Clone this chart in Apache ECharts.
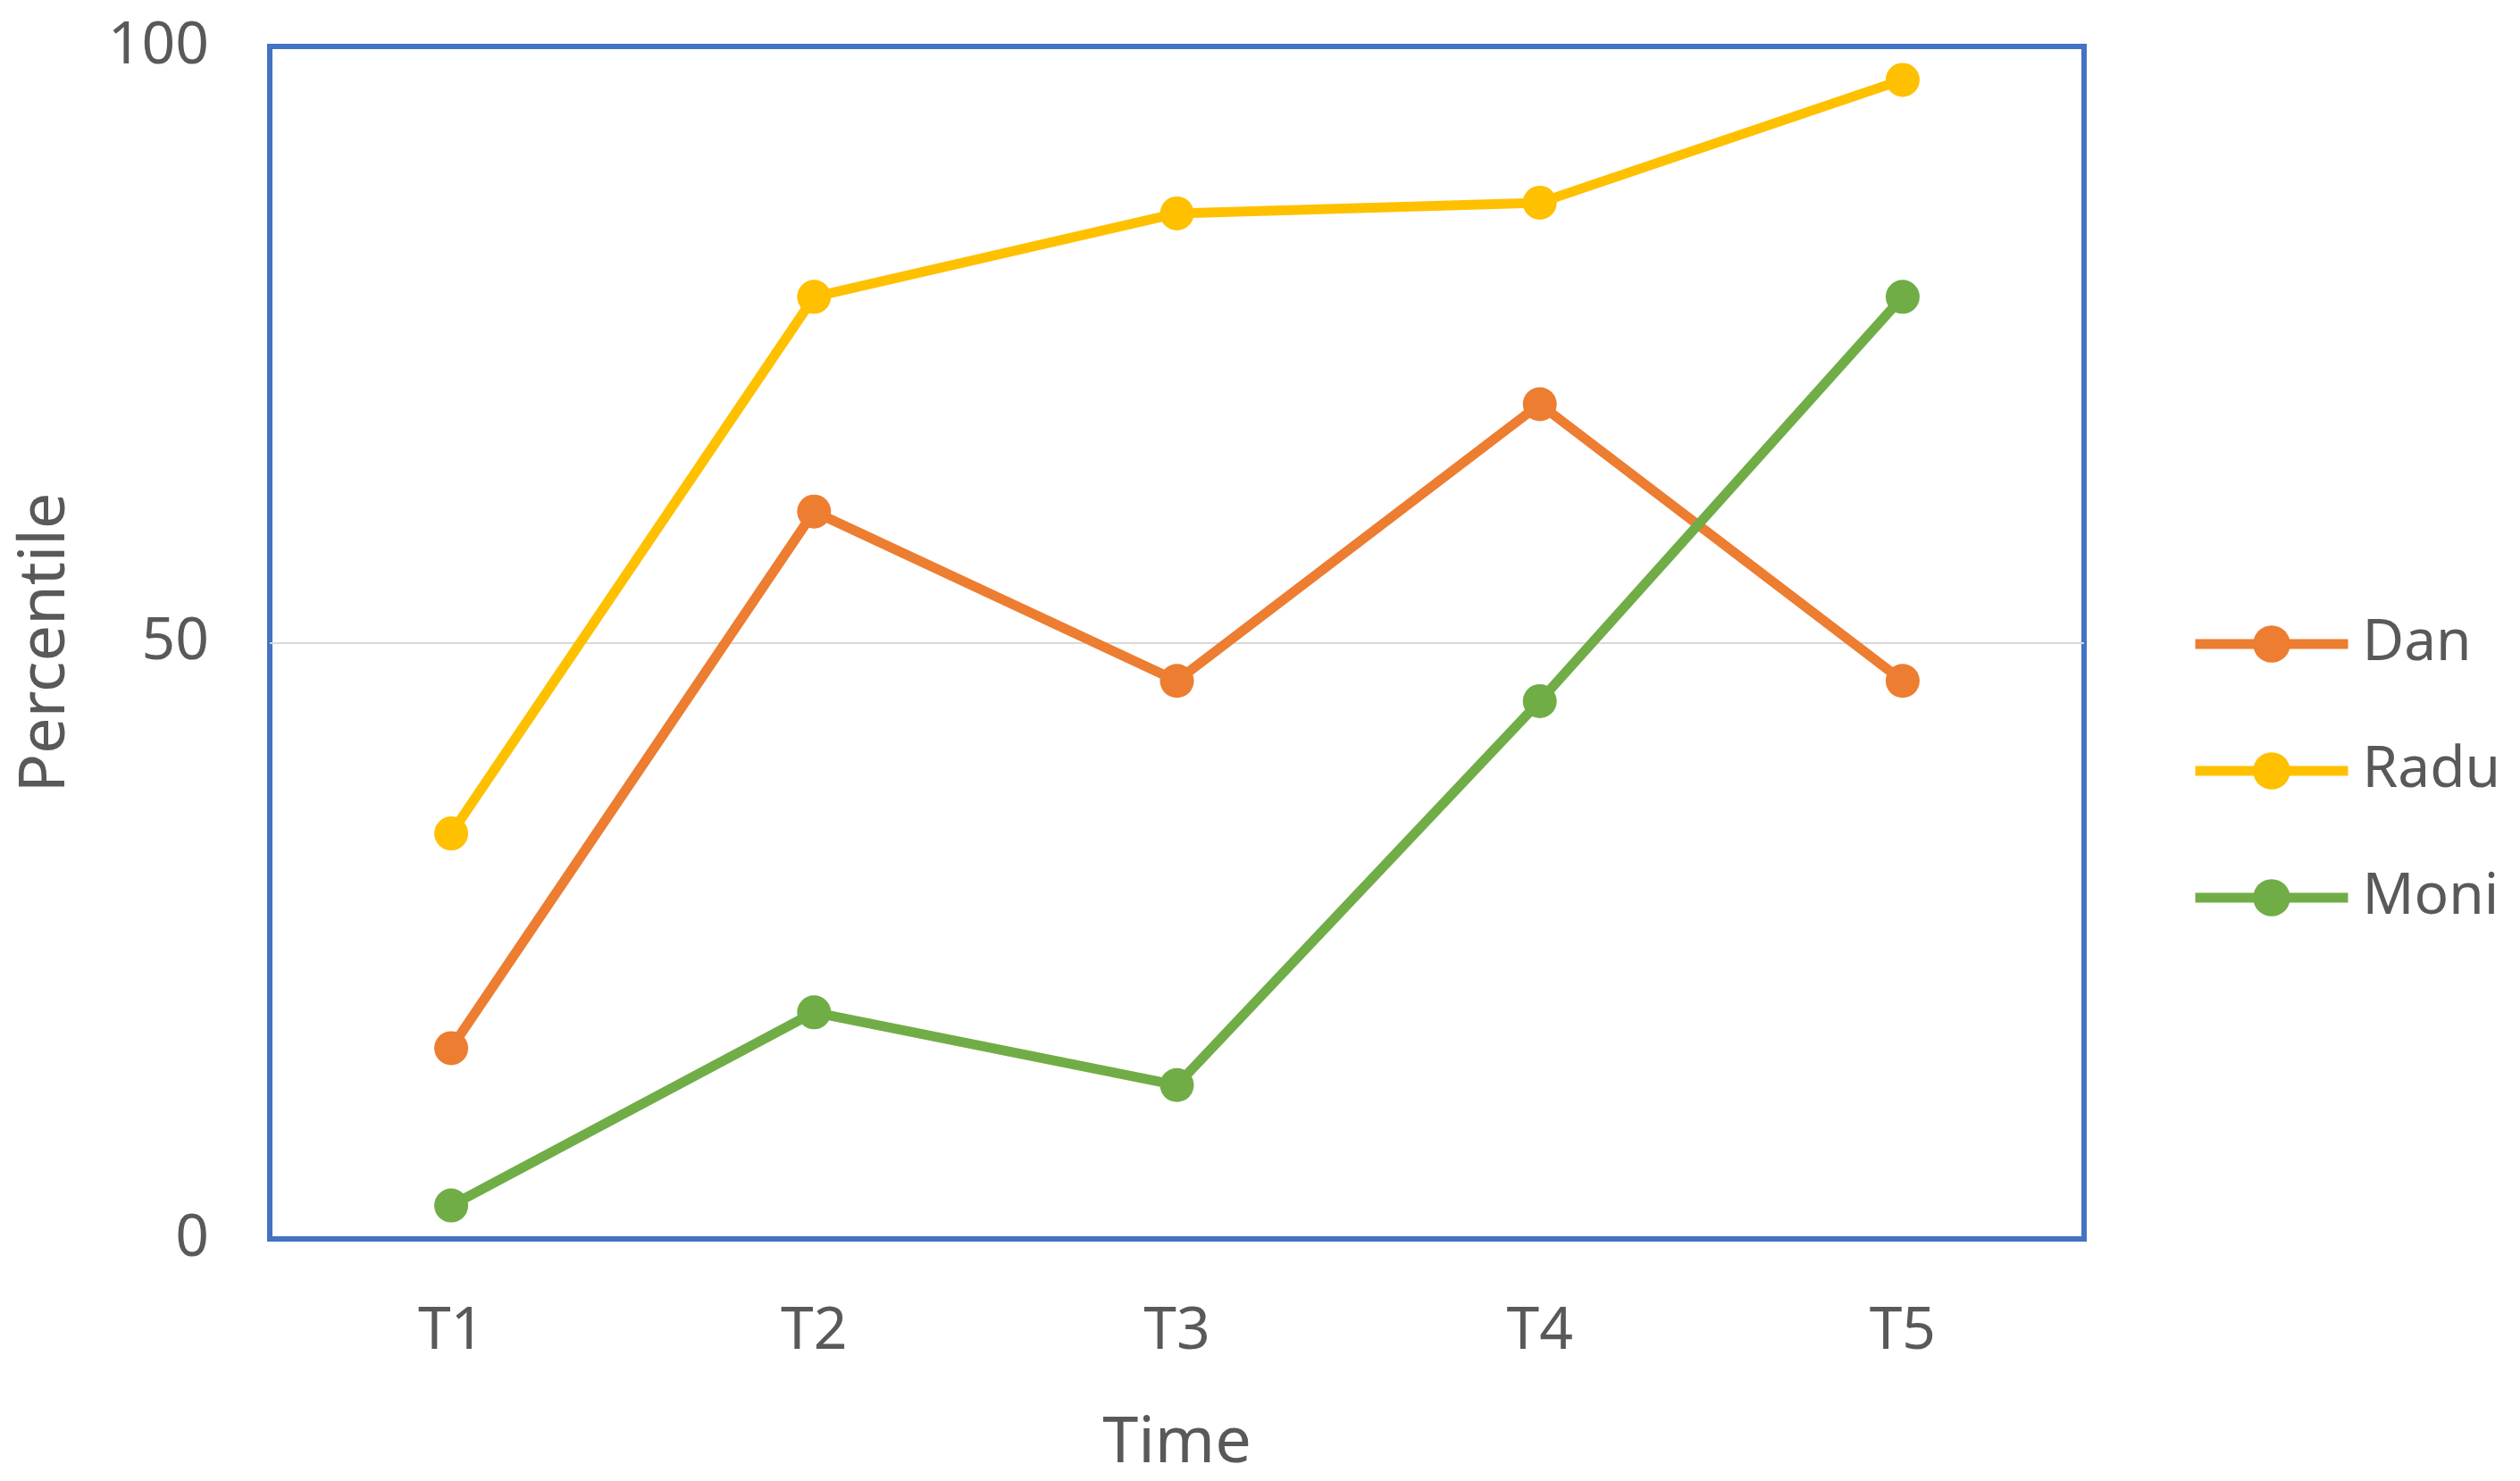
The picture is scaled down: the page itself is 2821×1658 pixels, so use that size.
<!DOCTYPE html>
<html>
	<head>
		<meta charset="utf-8">
		<title></title>
		<script src="https://cdn.jsdelivr.net/npm/echarts@6/dist/echarts.min.js"></script>
		<style>
			html, body { margin: 0; padding: 0; background: #fff; }
		</style>
	</head>
	<body>
		<div id="main" style="width: 2821px;height:1658px;"></div>
		<script type="text/javascript">
			// data
			var times = ['T1', 'T2', 'T3', 'T4', 'T5'];
			var dan = [16, 61, 46.8, 70, 46.8];
			var radu = [34, 79, 86, 86.9, 97.2];
			var moni = [2.8, 19, 12.9, 45.1, 79];
			var yTicks = [0, 50, 100];

			var textColor = '#595959';
			var font = 'Noto Sans';

			function lineSeries(name, data, color) {
				return {
					name: name,
					type: 'line',
					data: data,
					symbol: 'circle',
					symbolSize: 38,
					itemStyle: { color: color },
					lineStyle: { color: color, width: 11 }
				};
			}

			var myChart = echarts.init(document.getElementById('main'));

			var option = {
				backgroundColor: '#fff',
				animation: false,
				grid: {
					left: 302,
					right: 488,
					top: 52,
					bottom: 271,
					containLabel: false,
					outerBoundsMode: 'none',
					show: true,
					borderColor: '#4472C4',
					borderWidth: 6,
					backgroundColor: 'transparent'
				},
				legend: {
					orient: 'vertical',
					left: 2447,
					top: 684,
					itemWidth: 171,
					itemHeight: 52,
					itemGap: 78,
					lineStyle: { width: 11 },
					textStyle: {
						color: textColor,
						fontFamily: font,
						fontSize: 64,
						lineHeight: 64,
						padding: [0, 0, 0, 11]
					},
					data: ['Dan', 'Radu', 'Moni']
				},
				xAxis: {
					type: 'category',
					data: times,
					name: 'Time',
					nameLocation: 'middle',
					nameGap: 193,
					nameTextStyle: { color: textColor, fontFamily: font, fontSize: 72 },
					axisLine: { show: false },
					axisTick: { show: false },
					axisLabel: { color: textColor, fontFamily: font, fontSize: 66, margin: 71 }
				},
				yAxis: {
					type: 'value',
					min: yTicks[0],
					max: yTicks[yTicks.length - 1],
					interval: yTicks[1] - yTicks[0],
					name: 'Percentile',
					nameLocation: 'middle',
					nameGap: 215,
					nameTextStyle: { color: textColor, fontFamily: font, fontSize: 72 },
					axisLine: { show: false },
					axisTick: { show: false },
					axisLabel: { color: textColor, fontFamily: font, fontSize: 66, margin: 68 },
					splitLine: {
						show: true,
						lineStyle: { color: ['transparent', '#D9D9D9', 'transparent'], width: 2 }
					}
				},
				series: [
					lineSeries('Dan', dan, '#ED7D31'),
					lineSeries('Radu', radu, '#FFC000'),
					lineSeries('Moni', moni, '#70AD47')
				]
			};

			myChart.setOption(option);
		</script>
	</body>
</html>
